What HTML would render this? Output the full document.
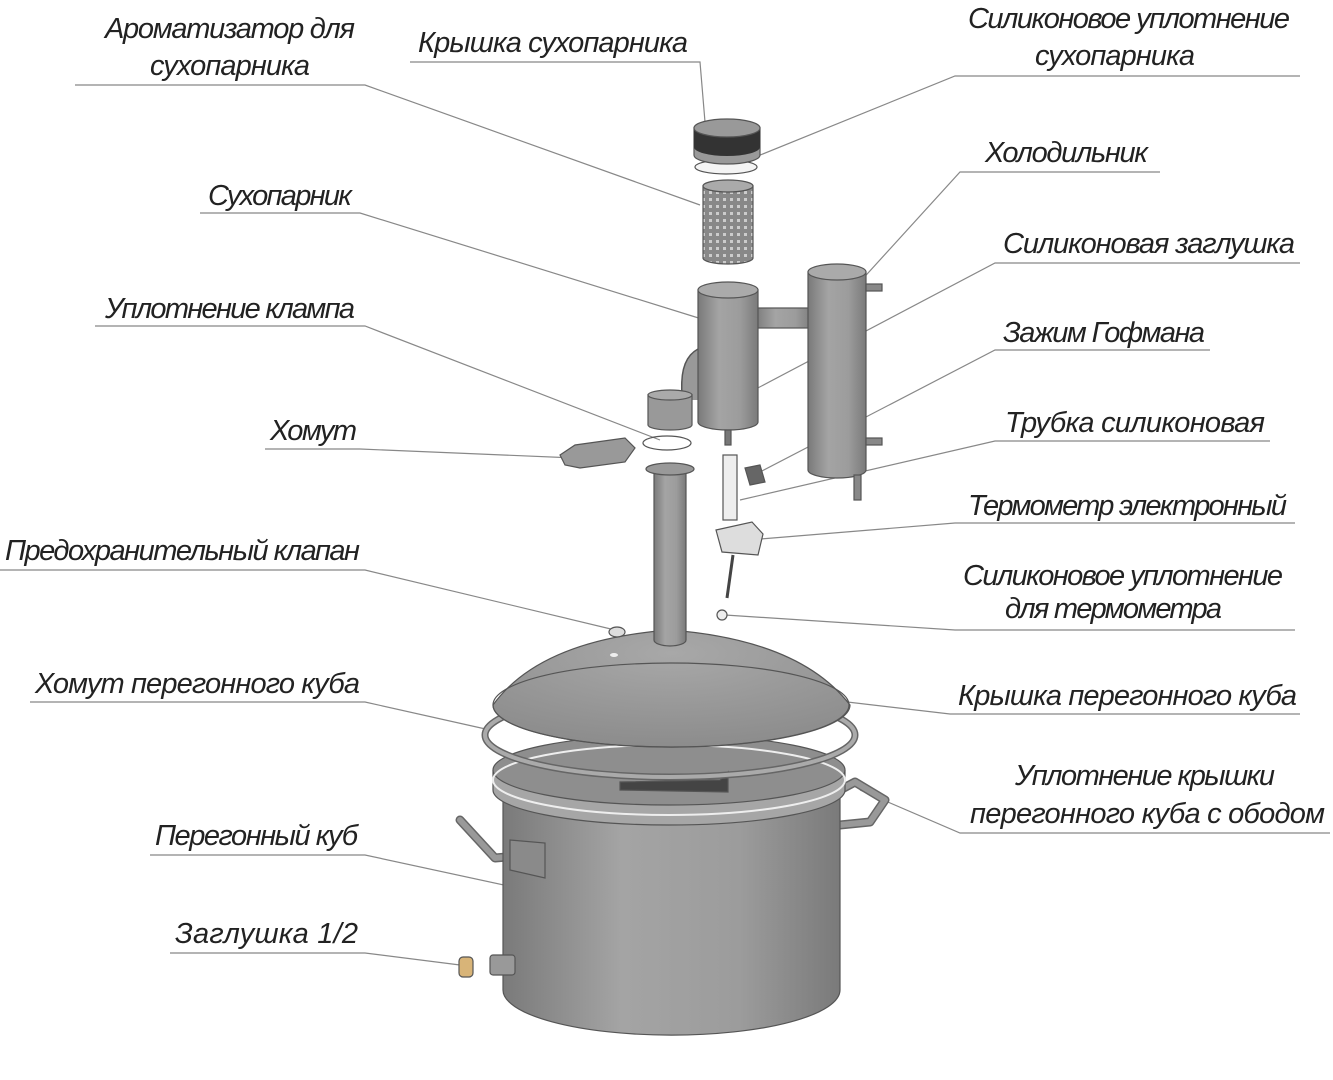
<!DOCTYPE html>
<html><head><meta charset="utf-8"><style>
html,body{margin:0;padding:0;background:#fff;}
svg{display:block;}
text{font-family:"Liberation Sans",sans-serif;font-style:italic;font-size:29px;fill:#222;}
.l{stroke:#888;stroke-width:1.2;fill:none;}
.p{stroke:#555;stroke-width:1.2;}
</style></head><body>
<svg width="1333" height="1080" viewBox="0 0 1333 1080" xmlns="http://www.w3.org/2000/svg">
<defs>
<linearGradient id="g" x1="0" x2="1" y1="0" y2="0">
<stop offset="0" stop-color="#7a7a7a"/><stop offset="0.35" stop-color="#a4a4a4"/><stop offset="0.7" stop-color="#9c9c9c"/><stop offset="1" stop-color="#7a7a7a"/>
</linearGradient>
<radialGradient id="d" cx="0.5" cy="0.2" r="0.8">
<stop offset="0" stop-color="#a8a8a8"/><stop offset="1" stop-color="#8c8c8c"/>
</radialGradient>
<pattern id="mesh" width="7" height="7" patternUnits="userSpaceOnUse">
<rect width="7" height="7" fill="#888"/><rect x="2" y="2" width="3" height="3" fill="#ccc"/>
</pattern>
</defs>

<g class="l">
<polyline points="75,85 365,85 700,205"/>
<polyline points="410,62 700,62 705,122"/>
<polyline points="1300,76 955,76 748,160"/>
<polyline points="1160,172 960,172 848,295"/>
<polyline points="200,213 360,213 705,320"/>
<polyline points="1300,263 995,263 735,400"/>
<polyline points="95,326 365,326 660,440"/>
<polyline points="1210,350 995,350 760,472"/>
<polyline points="265,449 360,449 575,458"/>
<polyline points="1270,441 995,441 740,500"/>
<polyline points="1295,523 955,523 748,540"/>
<polyline points="0,570 365,570 615,630"/>
<polyline points="1295,630 955,630 725,615"/>
<polyline points="30,702 365,702 490,730"/>
<polyline points="1300,714 950,714 745,690"/>
<polyline points="1330,833 960,833 860,790"/>
<polyline points="150,855 365,855 550,895"/>
<polyline points="170,953 365,953 460,965"/>
</g>

<!-- handles -->
<path d="M460,820 L495,858 L530,855" stroke="#666" stroke-width="9" fill="none" stroke-linecap="round" stroke-linejoin="round"/>
<path d="M460,820 L495,858 L530,855" stroke="#999" stroke-width="6" fill="none" stroke-linecap="round" stroke-linejoin="round"/>
<path d="M840,790 L855,782 L885,800 L870,822 L840,825" stroke="#666" stroke-width="9" fill="none" stroke-linejoin="round"/>
<path d="M840,790 L855,782 L885,800 L870,822 L840,825" stroke="#999" stroke-width="6" fill="none" stroke-linejoin="round"/>
<!-- pot -->
<path class="p" d="M503,795 L503,990 A168,45 0 0 0 840,990 L840,795Z" fill="url(#g)"/>
<path class="p" d="M510,840 L545,843 L545,878 L510,870Z" fill="#8a8a8a"/>
<rect class="p" x="490" y="955" width="25" height="20" rx="3" fill="#999"/>
<rect class="p" x="459" y="957" width="14" height="20" rx="4" fill="#d8b478"/>
<!-- seal ring band -->
<path class="p" d="M493,770 L493,790 A176,35 0 0 0 845,790 L845,770" fill="#a6a6a6"/>
<ellipse class="p" cx="669" cy="770" rx="176" ry="35" fill="#8e8e8e"/>
<ellipse cx="669" cy="780" rx="176" ry="35" fill="none" stroke="#eee" stroke-width="2"/>
<path class="p" d="M620,782 L720,780 L728,772 L728,792 L620,790Z" fill="#444"/>
<!-- clamp ring -->
<ellipse cx="670" cy="735" rx="185" ry="42" fill="none" stroke="#666" stroke-width="7"/>
<ellipse cx="670" cy="735" rx="185" ry="42" fill="none" stroke="#aaa" stroke-width="4"/>
<!-- lid -->
<path class="p" d="M493,705 Q540,640 670,630 Q800,640 850,705 A178,42 0 0 1 493,705Z" fill="url(#d)"/>
<ellipse class="p" cx="671" cy="705" rx="178" ry="42" fill="none"/>
<ellipse class="p" cx="617" cy="632" rx="8" ry="5" fill="#ddd"/>
<ellipse cx="614" cy="655" rx="4" ry="2" fill="#eee"/>
<!-- column -->
<path class="p" d="M654,472 L654,640 A16,6 0 0 0 686,640 L686,472Z" fill="url(#g)"/>
<ellipse class="p" cx="670" cy="469" rx="24" ry="6" fill="#999"/>
<!-- clamp seal & clamp -->
<ellipse class="p" cx="667" cy="443" rx="24" ry="7" fill="none" stroke-width="3"/>
<path class="p" d="M560,455 L575,445 L625,438 L635,448 L625,462 L580,468 L565,465Z" fill="#999"/>
<!-- dry steamer -->
<path d="M690,400 L690,385 Q690,360 705,355" stroke="#555" stroke-width="18" fill="none"/>
<path d="M690,400 L690,385 Q690,360 705,355" stroke="#999" stroke-width="15" fill="none"/>
<path class="p" d="M648,395 L648,425 A22,5 0 0 0 692,425 L692,395Z" fill="#999"/>
<ellipse class="p" cx="670" cy="395" rx="22" ry="5" fill="#aaa"/>
<rect class="p" x="755" y="308" width="58" height="20" fill="url(#g)"/>
<path class="p" d="M698,290 L698,422 A30,8 0 0 0 758,422 L758,290Z" fill="url(#g)"/>
<ellipse class="p" cx="728" cy="290" rx="30" ry="8" fill="#aaa"/>
<rect class="p" x="725" y="430" width="6" height="15" fill="#777"/>
<!-- condenser -->
<path class="p" d="M808,272 L808,470 A29,8 0 0 0 866,470 L866,272Z" fill="url(#g)"/>
<ellipse class="p" cx="837" cy="272" rx="29" ry="8" fill="#aaa"/>
<rect class="p" x="866" y="284" width="16" height="7" fill="#888"/>
<rect class="p" x="866" y="438" width="16" height="7" fill="#888"/>
<rect class="p" x="854" y="475" width="7" height="25" fill="#888"/>
<!-- basket -->
<path class="p" d="M703,186 L703,258 A25,6 0 0 0 753,258 L753,186Z" fill="url(#mesh)"/>
<ellipse class="p" cx="728" cy="186" rx="25" ry="6" fill="#aaa"/>
<ellipse class="p" cx="726" cy="167" rx="31" ry="7" fill="#f4f4f4"/>
<!-- cap -->
<path class="p" d="M694,128 L694,155 A33,9 0 0 0 760,155 L760,128Z" fill="#999"/>
<path d="M694,128 L694,147 A33,9 0 0 0 760,147 L760,128Z" fill="#333"/>
<ellipse class="p" cx="727" cy="128" rx="33" ry="9" fill="#999"/>
<!-- small parts -->
<rect class="p" x="723" y="455" width="14" height="65" fill="#eee"/>
<path class="p" d="M745,468 L760,465 L765,482 L750,485Z" fill="#666"/>
<path class="p" d="M716,530 L752,522 L763,534 L758,555 L722,552Z" fill="#ddd"/>
<line x1="733" y1="555" x2="727" y2="598" stroke="#444" stroke-width="3"/>
<circle class="p" cx="722" cy="615" r="5" fill="#eee"/>

<text x="105" y="38" textLength="250">Ароматизатор для</text>
<text x="150" y="75" textLength="160">сухопарника</text>
<text x="418" y="52" textLength="270">Крышка сухопарника</text>
<text x="968" y="28" textLength="322">Силиконовое уплотнение</text>
<text x="1035" y="65" textLength="160">сухопарника</text>
<text x="985" y="162" textLength="163">Холодильник</text>
<text x="208" y="205" textLength="144">Сухопарник</text>
<text x="1003" y="253" textLength="292">Силиконовая заглушка</text>
<text x="105" y="318" textLength="250">Уплотнение клампа</text>
<text x="1003" y="342" textLength="202">Зажим Гофмана</text>
<text x="270" y="440" textLength="87">Хомут</text>
<text x="1005" y="432" textLength="260">Трубка силиконовая</text>
<text x="968" y="515" textLength="319">Термометр электронный</text>
<text x="5" y="560" textLength="355">Предохранительный клапан</text>
<text x="963" y="585" textLength="320">Силиконовое уплотнение</text>
<text x="1005" y="618" textLength="217">для термометра</text>
<text x="35" y="693" textLength="325">Хомут перегонного куба</text>
<text x="958" y="705" textLength="339">Крышка перегонного куба</text>
<text x="1015" y="785" textLength="260">Уплотнение крышки</text>
<text x="970" y="823" textLength="355">перегонного куба с ободом</text>
<text x="155" y="845" textLength="203">Перегонный куб</text>
<text x="175" y="943" textLength="183">Заглушка 1/2</text>
</svg>
</body></html>
